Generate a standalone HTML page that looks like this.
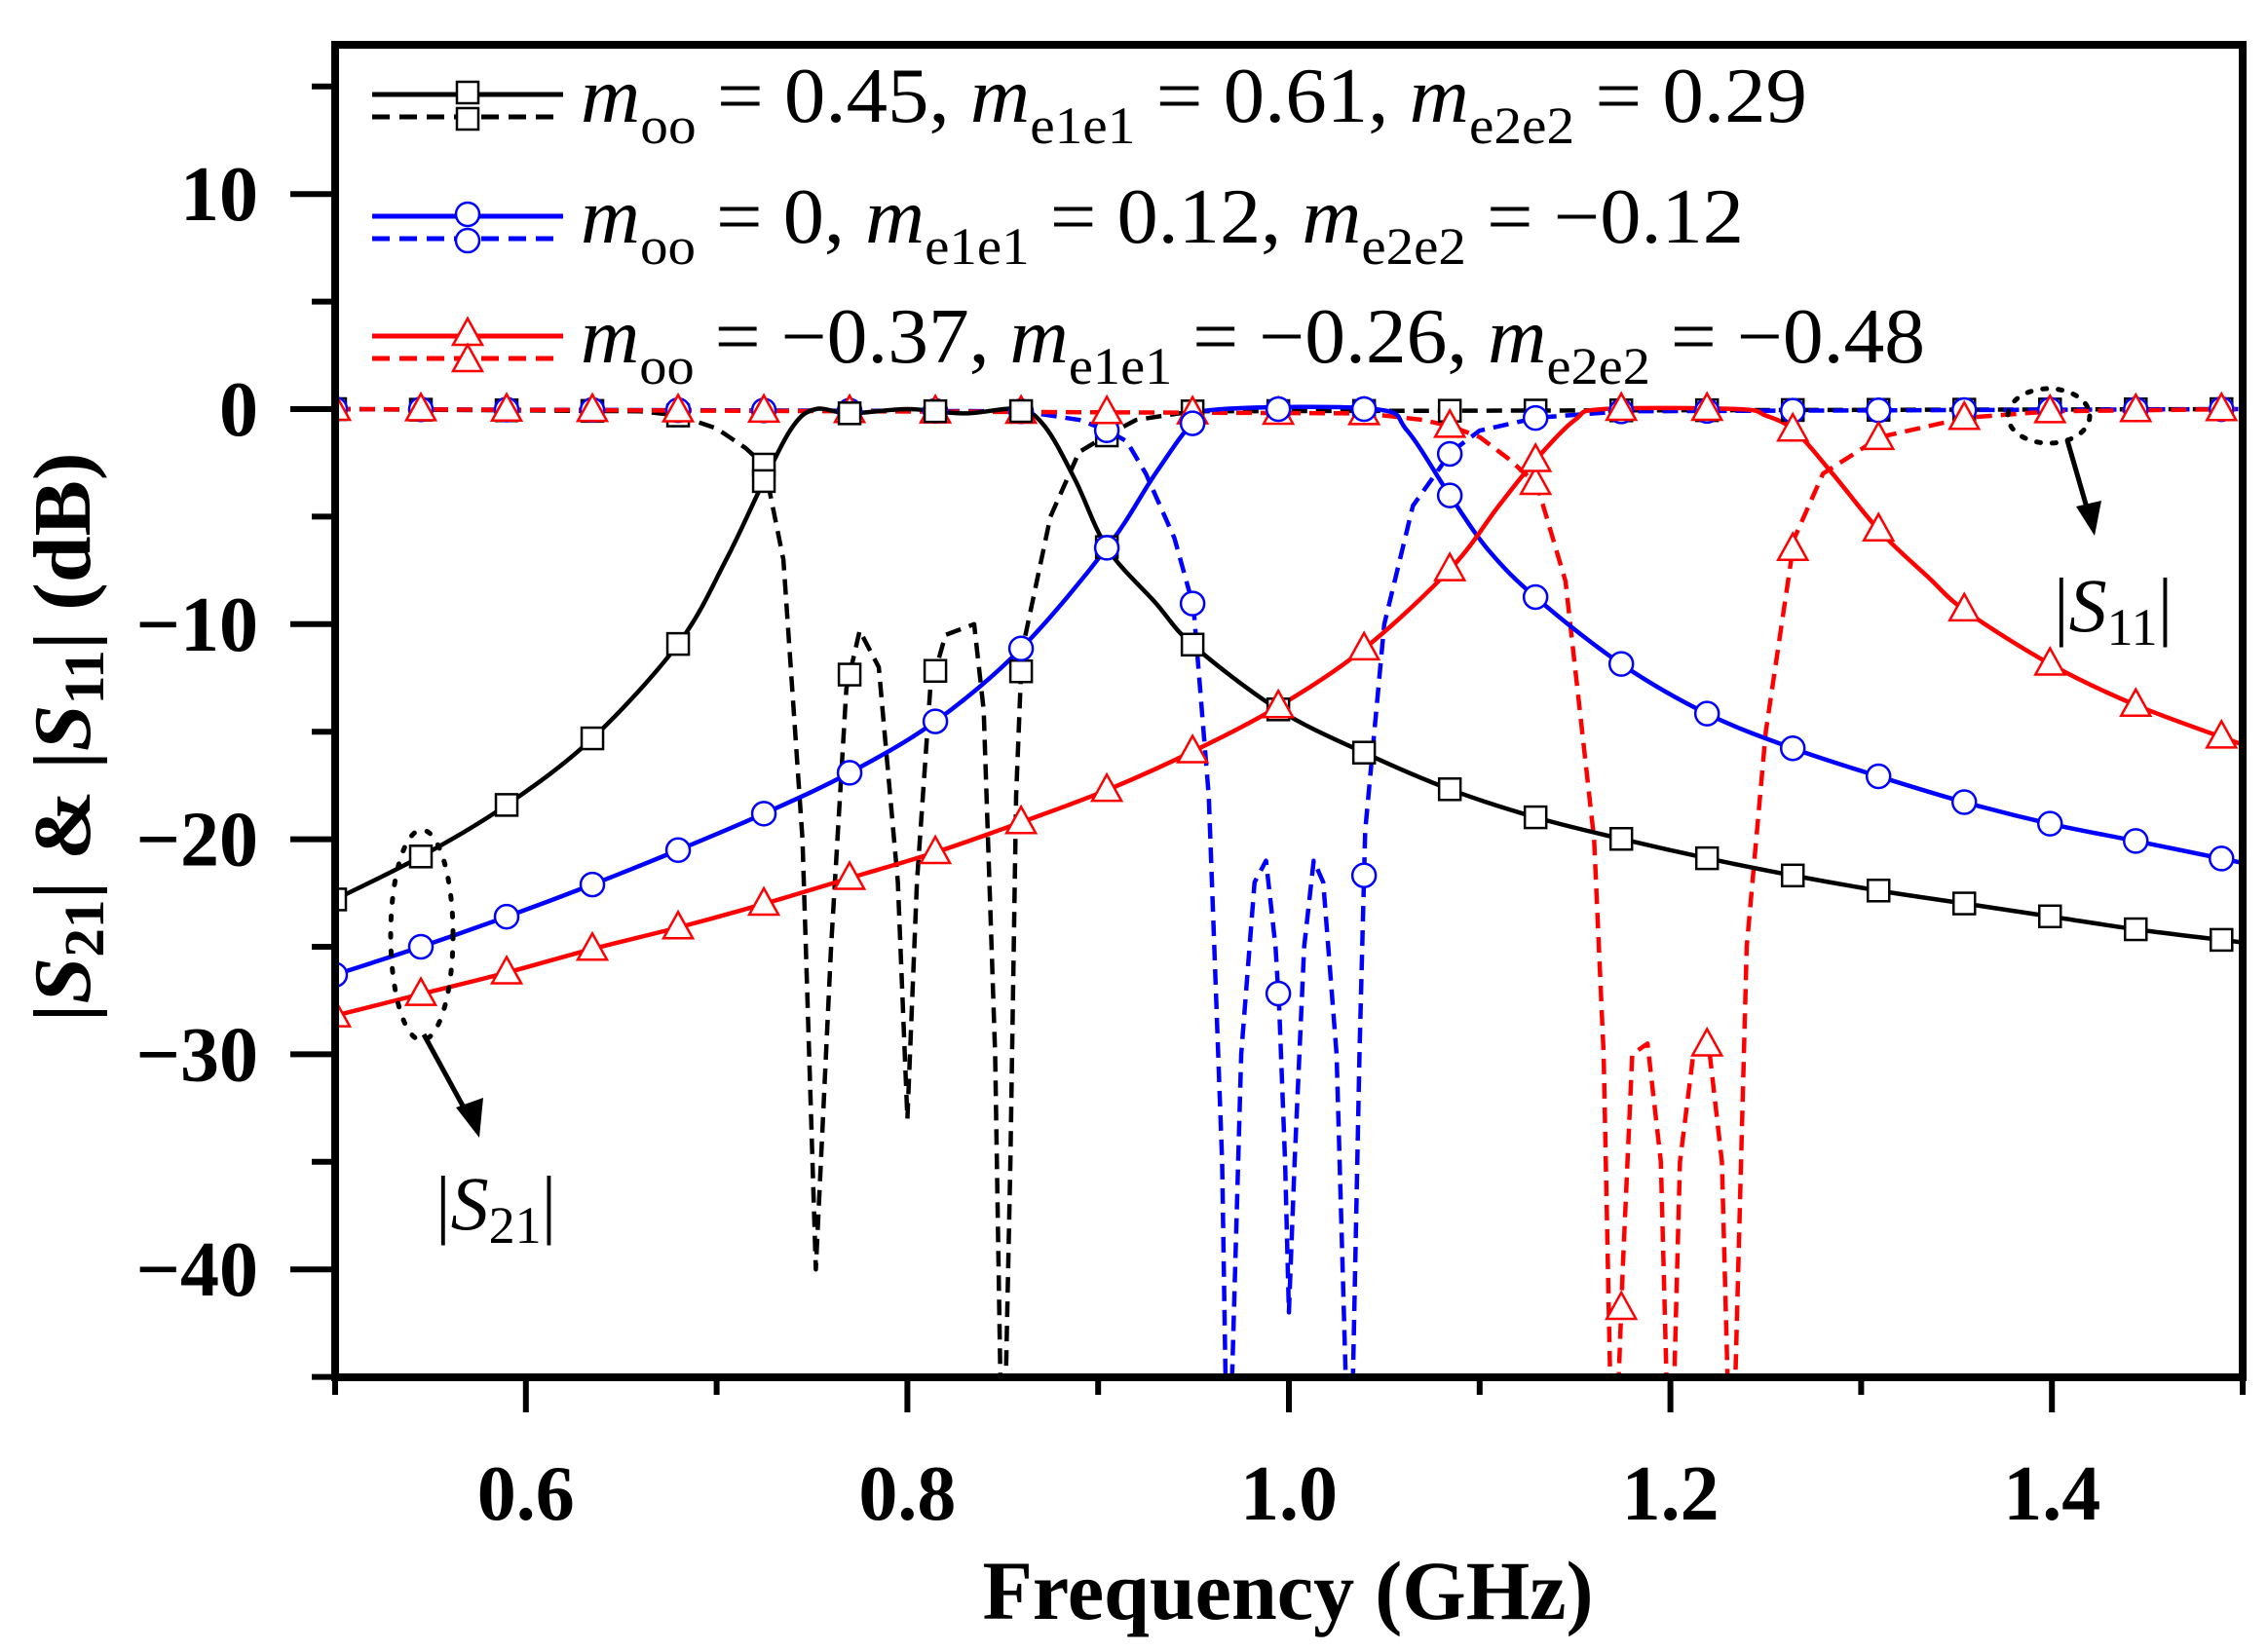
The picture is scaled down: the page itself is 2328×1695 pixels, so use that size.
<!DOCTYPE html>
<html><head><meta charset="utf-8"><style>
html,body{margin:0;padding:0;background:#fff;}
svg{display:block;}
svg text{font-family:"Liberation Serif","Times New Roman",serif;}
</style></head><body>
<svg id="c" width="2328" height="1695" viewBox="0 0 2328 1695" xmlns="http://www.w3.org/2000/svg" font-family="Liberation Serif, serif">
<defs><clipPath id="pa"><rect x="344" y="45" width="1958" height="1369"/></clipPath></defs>
<rect width="2328" height="1695" fill="#fff"/>
<g id="curves" clip-path="url(#pa)"></g>
<g id="axes"></g>
<g stroke-width="5" fill="none">
<line x1="382" y1="97" x2="578" y2="97" stroke="#000"/>
<line x1="382" y1="120" x2="578" y2="120" stroke="#000" stroke-dasharray="18,10"/>
<line x1="382" y1="222" x2="578" y2="222" stroke="#0000ff"/>
<line x1="382" y1="245" x2="578" y2="245" stroke="#0000ff" stroke-dasharray="18,10"/>
<line x1="382" y1="345" x2="578" y2="345" stroke="#ff0000"/>
<line x1="382" y1="368" x2="578" y2="368" stroke="#ff0000" stroke-dasharray="18,10"/>
</g>
<g id="legm"></g>
<g font-size="80" fill="#000" font-family="Liberation Serif, serif">
<text x="596" y="125" textLength="1259" lengthAdjust="spacingAndGlyphs" font-family="Liberation Serif, serif"><tspan font-style="italic">m</tspan><tspan font-size="54" dy="22">oo</tspan><tspan dy="-22"> = 0.45, </tspan><tspan font-style="italic">m</tspan><tspan font-size="54" dy="22">e1e1</tspan><tspan dy="-22"> = 0.61, </tspan><tspan font-style="italic">m</tspan><tspan font-size="54" dy="22">e2e2</tspan><tspan dy="-22"> = 0.29</tspan></text>
<text x="596" y="249" textLength="1194" lengthAdjust="spacingAndGlyphs" font-family="Liberation Serif, serif"><tspan font-style="italic">m</tspan><tspan font-size="54" dy="22">oo</tspan><tspan dy="-22"> = 0, </tspan><tspan font-style="italic">m</tspan><tspan font-size="54" dy="22">e1e1</tspan><tspan dy="-22"> = 0.12, </tspan><tspan font-style="italic">m</tspan><tspan font-size="54" dy="22">e2e2</tspan><tspan dy="-22"> = −0.12</tspan></text>
<text x="596" y="372" textLength="1380" lengthAdjust="spacingAndGlyphs" font-family="Liberation Serif, serif"><tspan font-style="italic">m</tspan><tspan font-size="54" dy="22">oo</tspan><tspan dy="-22"> = −0.37, </tspan><tspan font-style="italic">m</tspan><tspan font-size="54" dy="22">e1e1</tspan><tspan dy="-22"> = −0.26, </tspan><tspan font-style="italic">m</tspan><tspan font-size="54" dy="22">e2e2</tspan><tspan dy="-22"> = −0.48</tspan></text>
</g>
<ellipse cx="433" cy="960" rx="32" ry="108" fill="none" stroke="#000" stroke-width="5" stroke-dasharray="4,14" stroke-linecap="round"/>
<line x1="435" y1="1062" x2="482" y2="1148" stroke="#000" stroke-width="5"/>
<polygon points="492,1168 468,1137 496,1127" fill="#000"/>
<text x="447" y="1262" font-size="78" font-family="Liberation Serif, serif"><tspan>|</tspan><tspan font-style="italic">S</tspan><tspan font-size="54" dy="14">21</tspan><tspan dy="-14">|</tspan></text>
<ellipse cx="2103" cy="427" rx="42" ry="28" fill="none" stroke="#000" stroke-width="5" stroke-dasharray="4,12" stroke-linecap="round"/>
<line x1="2122" y1="452" x2="2144" y2="528" stroke="#000" stroke-width="5"/>
<polygon points="2150,550 2131,520 2157,514" fill="#000"/>
<text x="2108" y="648" font-size="78" font-family="Liberation Serif, serif"><tspan>|</tspan><tspan font-style="italic">S</tspan><tspan font-size="54" dy="14">11</tspan><tspan dy="-14">|</tspan></text>
<text x="1322" y="1662" font-size="86" font-weight="bold" text-anchor="middle" textLength="627" lengthAdjust="spacingAndGlyphs" font-family="Liberation Serif, serif">Frequency (GHz)</text>
<text transform="translate(92,757) rotate(-90)" font-size="84" font-weight="bold" text-anchor="middle" textLength="585" lengthAdjust="spacingAndGlyphs" font-family="Liberation Serif, serif">|<tspan font-style="italic">S</tspan><tspan font-size="58" dy="14">21</tspan><tspan dy="-14">| &amp; |</tspan><tspan font-style="italic">S</tspan><tspan font-size="58" dy="14">11</tspan><tspan dy="-14">| (dB)</tspan></text>
</svg>
<script>
(function(){
var NS="http://www.w3.org/2000/svg";
function X(f){return 344+(f-0.5)*1958;}
function Y(d){return 420-d*22.08;}
function el(t,a,p){var e=document.createElementNS(NS,t);for(var k in a)e.setAttribute(k,a[k]);p.appendChild(e);return e;}
function interp(pts,f){for(var i=0;i<pts.length-1;i++){if(f>=pts[i][0]&&f<=pts[i+1][0]){var t=(f-pts[i][0])/(pts[i+1][0]-pts[i][0]);return pts[i][1]+t*(pts[i+1][1]-pts[i][1]);}}return pts[pts.length-1][1];}
function smooth(pts){var P=pts.map(function(p){return [X(p[0]),Y(p[1])];});var d="M"+P[0][0]+","+P[0][1];
for(var i=0;i<P.length-1;i++){var p0=P[Math.max(i-1,0)],p1=P[i],p2=P[i+1],p3=P[Math.min(i+2,P.length-1)];
var c1=[p1[0]+(p2[0]-p0[0])/6,p1[1]+(p2[1]-p0[1])/6],c2=[p2[0]-(p3[0]-p1[0])/6,p2[1]-(p3[1]-p1[1])/6];
c1[0]=Math.min(Math.max(c1[0],p1[0]),p2[0]);c2[0]=Math.min(Math.max(c2[0],p1[0]),p2[0]);
d+=" C"+c1[0]+","+c1[1]+" "+c2[0]+","+c2[1]+" "+p2[0]+","+p2[1];}return d;}
function poly(pts){return "M"+pts.map(function(p){return X(p[0])+","+Y(p[1]);}).join(" L");}
var mf=[];for(var i=0;i<23;i++)mf.push(0.5+i*0.04495);
function marker(g,type,x,y,col){
 if(type=="s")el("rect",{x:x-11,y:y-11,width:22,height:22,fill:"#fff",stroke:col,"stroke-width":2.5},g);
 else if(type=="c")el("circle",{cx:x,cy:y,r:12,fill:"#fff",stroke:col,"stroke-width":2.5},g);
 else el("polygon",{points:(x)+","+(y-16)+" "+(x-15)+","+(y+11)+" "+(x+15)+","+(y+11),fill:"#fff",stroke:col,"stroke-width":2.5},g);
}
var bS21=[[0.5,-22.8],[0.545,-20.8],[0.59,-18.4],[0.635,-15.3],[0.68,-10.9],[0.705,-7],[0.725,-3.3],[0.74,-0.8],[0.752,0],[0.77,-0.2],[0.8,0],[0.83,-0.2],[0.858,0],[0.872,-0.8],[0.888,-3.3],[0.905,-6.5],[0.93,-9],[0.95,-11],[0.995,-14],[1.04,-16],[1.085,-17.7],[1.13,-19],[1.175,-20],[1.22,-20.9],[1.265,-21.7],[1.31,-22.4],[1.355,-23],[1.4,-23.6],[1.445,-24.2],[1.5,-24.8]];
var uS21=[[0.5,-26.3],[0.545,-25],[0.59,-23.6],[0.635,-22.1],[0.68,-20.5],[0.725,-18.8],[0.77,-16.9],[0.815,-14.5],[0.86,-11.1],[0.905,-6.4],[0.93,-3],[0.95,-0.6],[0.965,0],[1.045,0],[1.062,-1],[1.085,-4.1],[1.105,-6.6],[1.13,-8.8],[1.175,-11.9],[1.22,-14.2],[1.265,-15.8],[1.31,-17.1],[1.355,-18.3],[1.4,-19.3],[1.445,-20.1],[1.5,-21.1]];
var rS21=[[0.5,-28.2],[0.545,-27.2],[0.59,-26.2],[0.635,-25.1],[0.68,-24.1],[0.725,-23],[0.77,-21.8],[0.815,-20.6],[0.86,-19.2],[0.905,-17.7],[0.95,-15.9],[0.995,-13.8],[1.04,-11.1],[1.085,-7.4],[1.11,-4.5],[1.13,-2.3],[1.15,-0.5],[1.165,0],[1.235,0],[1.25,-0.3],[1.265,-1],[1.285,-3],[1.31,-5.7],[1.335,-7.8],[1.355,-9.4],[1.4,-11.9],[1.445,-13.8],[1.5,-15.6]];
var bS11=[[0.5,0],[0.66,-0.1],[0.68,-0.3],[0.7,-0.9],[0.715,-1.8],[0.725,-2.6],[0.735,-7],[0.745,-20],[0.752,-40],[0.76,-25],[0.768,-13],[0.775,-10.3],[0.785,-12],[0.795,-22],[0.8,-33],[0.805,-22],[0.812,-13],[0.82,-10.5],[0.835,-10],[0.84,-14],[0.846,-30],[0.85,-52],[0.854,-35],[0.857,-18],[0.86,-11.3],[0.875,-5],[0.89,-2],[0.905,-1.2],[0.92,-0.5],[0.95,-0.1],[1.5,0]];
var uS11=[[0.5,0],[0.86,-0.1],[0.89,-0.5],[0.905,-1],[0.915,-1.5],[0.925,-3],[0.94,-6],[0.95,-9.2],[0.958,-18],[0.965,-35],[0.968,-52],[0.975,-30],[0.982,-22],[0.988,-21],[0.993,-25],[0.995,-28],[0.998,-35],[1.0,-42],[1.003,-35],[1.008,-25],[1.013,-21],[1.018,-22],[1.025,-30],[1.032,-52],[1.037,-30],[1.04,-19.6],[1.05,-10],[1.065,-4.5],[1.085,-2],[1.1,-1],[1.13,-0.4],[1.175,-0.1],[1.5,0]];
var rS11=[[0.5,0],[1.04,-0.2],[1.07,-0.5],[1.085,-0.8],[1.1,-1.3],[1.115,-2.3],[1.13,-3.5],[1.145,-8],[1.16,-20],[1.165,-30],[1.17,-52],[1.175,-40],[1.18,-30],[1.188,-29.5],[1.195,-35],[1.2,-52],[1.205,-35],[1.212,-30],[1.22,-29.5],[1.227,-35],[1.232,-52],[1.24,-25],[1.25,-15],[1.265,-6],[1.28,-3],[1.31,-1.3],[1.355,-0.4],[1.4,-0.1],[1.5,0]];
var g=document.getElementById("curves");
var sets=[[bS11,"#000","s",true],[uS11,"#0000ff","c",true],[rS11,"#ff0000","t",true],[bS21,"#000","s",false],[uS21,"#0000ff","c",false],[rS21,"#ff0000","t",false]];
sets.forEach(function(s){var a={d:s[3]?poly(s[0]):smooth(s[0]),fill:"none",stroke:s[1],"stroke-width":4.5,"stroke-linejoin":"round"};if(s[3])a["stroke-dasharray"]="16,9";el("path",a,g);});
sets.forEach(function(s){mf.forEach(function(f){var d=interp(s[0],f);if(d<-44)return;marker(g,s[2],X(f),Y(d),s[1]);});});
var lm=document.getElementById("legm");
[[97,"#000","s"],[120,"#000","s"],[222,"#0000ff","c"],[245,"#0000ff","c"],[345,"#ff0000","t"],[368,"#ff0000","t"]].forEach(function(m,i){marker(lm,m[2],480,m[0]-(i%2==0?2:-2),m[1]);});
var ax=document.getElementById("axes");
el("rect",{x:344,y:46,width:1958,height:1368,fill:"none",stroke:"#000","stroke-width":8},ax);
for(var d=15;d>=-45;d-=5){var maj=(d%10==0);var y=Y(d);el("line",{x1:maj?298:320,y1:y,x2:344,y2:y,stroke:"#000","stroke-width":6},ax);
 if(maj){var t=el("text",{x:265,y:y+27,"font-size":80,"font-weight":"bold","text-anchor":"end","font-family":"Liberation Serif, serif"},ax);t.textContent=(d<0?"−":"")+Math.abs(d);}}
for(var k=0;k<=10;k++){var f=0.5+k*0.1;var x=X(f);var maj=(k%2==1);el("line",{x1:x,y1:1414,x2:x,y2:maj?1450:1432,stroke:"#000","stroke-width":6},ax);
 if(maj&&k<10){var t=el("text",{x:x,y:1560,"font-size":80,"font-weight":"bold","text-anchor":"middle","font-family":"Liberation Serif, serif"},ax);t.textContent=f.toFixed(1);}}
})();
</script>
</body></html>
